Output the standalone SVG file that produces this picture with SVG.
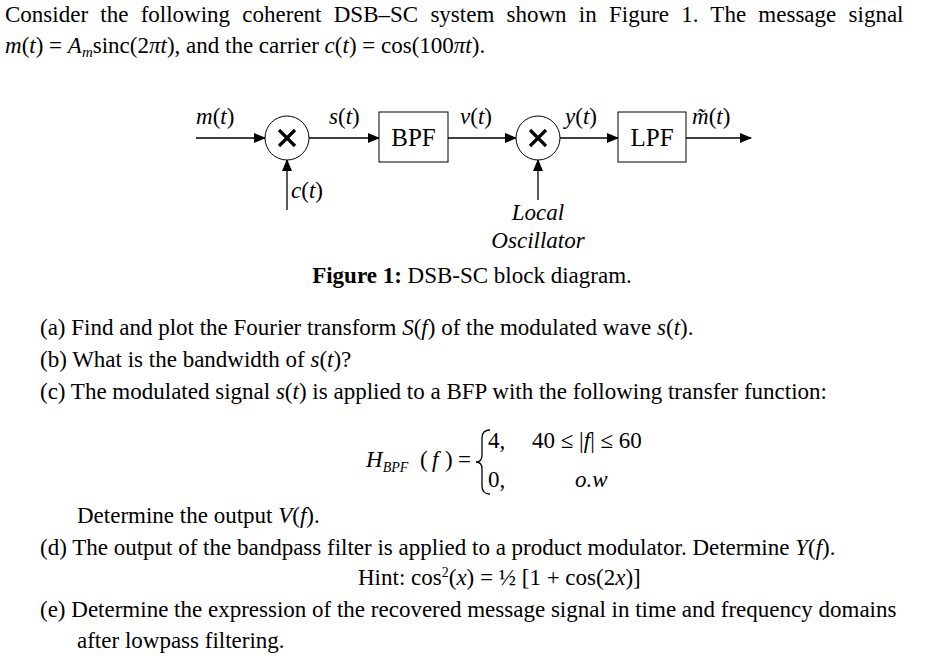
<svg xmlns="http://www.w3.org/2000/svg" width="950" height="658" viewBox="0 0 950 658">
<defs>
<marker id="ar" markerWidth="12" markerHeight="10" refX="11" refY="5" orient="auto" markerUnits="userSpaceOnUse"><path d="M0,0 L12,5 L0,10 z" fill="#000"/></marker>
</defs>
<style>
text{font-family:"Liberation Serif",serif;font-size:23px;fill:#000}
.i{font-style:italic}
.ln{stroke:#000;stroke-width:1.3;fill:none}
.xm{stroke:#000;stroke-width:3.2;fill:none}
.bx{stroke:#000;stroke-width:1;fill:#fff}
.lb{font-size:25px}
</style>
<rect width="950" height="658" fill="#fff"/>
<text x="5" y="22" word-spacing="6.5">Consider the following coherent DSB–SC system shown in Figure 1. The message signal</text>
<text x="5" y="53"><tspan class="i">m</tspan>(<tspan class="i">t</tspan>) = <tspan class="i">A<tspan font-size="15" dy="4">m</tspan></tspan><tspan dy="-4">sinc(2</tspan><tspan class="i">πt</tspan>), and the carrier <tspan class="i">c</tspan>(<tspan class="i">t</tspan>) = cos(100<tspan class="i">πt</tspan>).</text>
<g id="connectors">
<line class="ln" x1="196" y1="138" x2="265" y2="138" marker-end="url(#ar)"/>
<line class="ln" x1="309" y1="138" x2="379" y2="138" marker-end="url(#ar)"/>
<line class="ln" x1="287" y1="210" x2="287" y2="160" marker-end="url(#ar)"/>
<line class="ln" x1="448" y1="138" x2="516" y2="138" marker-end="url(#ar)"/>
<line class="ln" x1="560" y1="138" x2="618" y2="138" marker-end="url(#ar)"/>
<line class="ln" x1="538" y1="200" x2="538" y2="160" marker-end="url(#ar)"/>
<line class="ln" x1="686" y1="138" x2="751" y2="138" marker-end="url(#ar)"/>
</g>
<g id="mult1"><circle class="bx" cx="287" cy="138" r="22"/><path class="xm" d="M279,130 L295,146 M295,130 L279,146"/></g>
<g id="bpf"><rect class="bx" x="379" y="112" width="69" height="50"/><text class="lb" x="413.5" y="146" text-anchor="middle">BPF</text></g>
<g id="mult2"><circle class="bx" cx="538" cy="138" r="22"/><path class="xm" d="M530,130 L546,146 M546,130 L530,146"/></g>
<g id="lpf"><rect class="bx" x="618" y="112" width="68" height="50"/><text class="lb" x="652" y="146" text-anchor="middle">LPF</text></g>
<g id="labels">
<text x="196" y="124"><tspan class="i">m</tspan>(<tspan class="i">t</tspan>)</text>
<text x="329" y="124"><tspan class="i">s</tspan>(<tspan class="i">t</tspan>)</text>
<text x="291" y="198"><tspan class="i">c</tspan>(<tspan class="i">t</tspan>)</text>
<text x="460" y="124"><tspan class="i">v</tspan>(<tspan class="i">t</tspan>)</text>
<text x="565" y="124"><tspan class="i">y</tspan>(<tspan class="i">t</tspan>)</text>
<text x="692" y="124"><tspan class="i">m̃</tspan>(<tspan class="i">t</tspan>)</text>
<text x="538" y="220" text-anchor="middle" class="i">Local</text>
<text x="538" y="248" text-anchor="middle" class="i">Oscillator</text>
</g>
<text x="472" y="283" text-anchor="middle"><tspan font-weight="bold">Figure 1:</tspan> DSB-SC block diagram.</text>
<text x="40" y="335">(a) Find and plot the Fourier transform <tspan class="i">S</tspan>(<tspan class="i">f</tspan>) of the modulated wave <tspan class="i">s</tspan>(<tspan class="i">t</tspan>).</text>
<text x="40" y="367">(b) What is the bandwidth of <tspan class="i">s</tspan>(<tspan class="i">t</tspan>)?</text>
<text x="40" y="399">(c) The modulated signal <tspan class="i">s</tspan>(<tspan class="i">t</tspan>) is applied to a BFP with the following transfer function:</text>
<g id="formula">
<text x="366" y="467" class="i" font-size="24">H<tspan font-size="14" dy="5">BPF</tspan></text>
<text x="420" y="467" font-size="26">(</text>
<text x="432" y="467" class="i" font-size="24">f</text>
<text x="445" y="467" font-size="26">)</text>
<text x="458" y="467" font-size="22">=</text>
<path class="ln" stroke-width="1.6" d="M490,430 Q482,430 482,438 L482,455 Q482,462 476,462 Q482,462 482,469 L482,486 Q482,494 490,494"/>
<text x="488" y="448" font-size="22">4,</text>
<text x="488" y="487" font-size="22">0,</text>
<text x="532" y="448" font-size="22">40 ≤ |<tspan class="i">f</tspan>| ≤ 60</text>
<text x="575" y="487" font-size="22" class="i">o.w</text>
</g>
<text x="77" y="523">Determine the output <tspan class="i">V</tspan>(<tspan class="i">f</tspan>).</text>
<text x="40" y="555">(d) The output of the bandpass filter is applied to a product modulator. Determine <tspan class="i">Y</tspan>(<tspan class="i">f</tspan>).</text>
<text x="358" y="585">Hint: cos<tspan font-size="14" dy="-8">2</tspan><tspan dy="8">(</tspan><tspan class="i">x</tspan>) = ½ [1 + cos(2<tspan class="i">x</tspan>)]</text>
<text x="40" y="617">(e) Determine the expression of the recovered message signal in time and frequency domains</text>
<text x="77" y="648">after lowpass filtering.</text>
</svg>
